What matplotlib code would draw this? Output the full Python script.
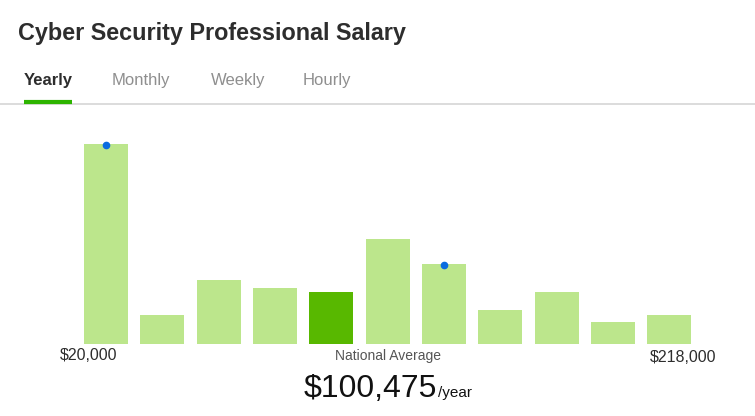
import matplotlib.pyplot as plt

# Salary distribution (relative bar heights)
bar_heights = [200, 29, 64, 56, 52, 105, 80, 34, 52, 22, 29]
avg_index = 4
dot_bars = [0, 6]
tabs = ["Yearly", "Monthly", "Weekly", "Hourly"]
tab_x = [24, 112, 211, 303]
low_label = "$20,000"
high_label = "$218,000"
avg_value = "$100,475"

W, H = 755, 416
light_green = "#bce68c"
dark_green = "#58b800"
blue = "#0a6ce0"

plt.rcParams['font.family'] = ['Liberation Sans', 'DejaVu Sans']

fig = plt.figure(figsize=(W / 100, H / 100), dpi=100)


def fx(px):
    return px / W


def fy(py):
    return 1 - py / H


# bars axis: centre of bar 0 at 106px, pitch ~56.35px, bottom at 343.7px
pitch = 56.35
left = 106 - 0.5 * pitch
ax = fig.add_axes([fx(left), fy(343.7), 11 * pitch / W, 220 / H])
xs = list(range(len(bar_heights)))
colors = [dark_green if i == avg_index else light_green for i in xs]
ax.bar(xs, bar_heights, width=44 / pitch, color=colors)
ax.plot([xs[i] for i in dot_bars], [bar_heights[i] - 1.5 for i in dot_bars],
        'o', color=blue, markersize=4.5, zorder=3)
ax.set_xlim(-0.5, 10.5)
ax.set_ylim(0, 220)
ax.axis('off')

# title and tabs
fig.text(fx(18), fy(40), "Cyber Security Professional Salary", fontsize=16.8,
         fontweight='bold', color="#2d2d2d", va='baseline', ha='left')
for i, (t, x) in enumerate(zip(tabs, tab_x)):
    fig.text(fx(x), fy(85), t, fontsize=12, va='baseline', ha='left',
             color="#2d2d2d" if i == 0 else "#8f8f8f",
             fontweight='bold' if i == 0 else 'normal')

line_ax = fig.add_axes([0, 0, 1, 1], zorder=-1)
line_ax.set_xlim(0, W)
line_ax.set_ylim(H, 0)
line_ax.axis('off')
line_ax.plot([0, W], [103.5, 103.5], color="#d6d6d6", lw=1.2)
line_ax.plot([24, 72], [101.5, 101.5], color="#2db400", lw=3, solid_capstyle='butt')

# axis labels
fig.text(fx(88.5), fy(356), low_label, fontsize=11.5, ha='center', va='center', color="#2d2d2d")
fig.text(fx(388), fy(356), "National Average", fontsize=10, ha='center', va='center', color="#555555")
fig.text(fx(683.5), fy(357), high_label, fontsize=11.5, ha='center', va='center', color="#2d2d2d")
fig.text(fx(437), fy(397), avg_value, fontsize=23, ha='right', va='baseline', color="#111111")
fig.text(fx(438), fy(397), "/year", fontsize=11, ha='left', va='baseline', color="#111111")

fig.savefig("out.png", dpi=100)
